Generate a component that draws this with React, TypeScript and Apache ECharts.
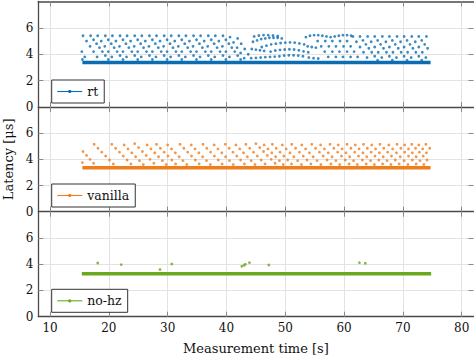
import React, { useEffect, useRef } from "react";
import * as echarts from "echarts";

const xTickValues = [10, 20, 30, 40, 50, 60, 70, 80];
const yLabelValues = [0, 2, 4, 6];
const yTickValues = [2, 4, 6];
const seriesNames = ["rt", "vanilla", "no-hz"];
const seriesColors = ["#0a6db3", "#f07c1b", "#69a81f"];

const baselineRt: number[][] = [[15.5, 3.37], [74.7, 3.37]];
const baselineVanilla: number[][] = [[15.5, 3.36], [74.7, 3.36]];
const baselineNoHz: number[][] = [[15.4, 3.27], [74.8, 3.27]];

const rtDots: number[][] = [
  [15.4, 4.2], [15.9, 3.8], [15.5, 3.6],
  [15.6, 5.4], [16.2, 5.0], [16.8, 4.6], [17.4, 4.2], [18.0, 3.8],
  [16.9, 5.4], [17.4, 5.1], [17.9, 4.8], [18.4, 4.5], [18.9, 4.2], [19.4, 3.9], [19.9, 3.6],
  [18.1, 5.4], [18.7, 5.0], [19.3, 4.6], [19.9, 4.2], [20.5, 3.8],
  [19.4, 5.4], [19.9, 5.1], [20.4, 4.8], [20.9, 4.5], [21.4, 4.2], [21.9, 3.9], [22.4, 3.6],
  [20.6, 5.4], [21.2, 5.0], [21.8, 4.6], [22.4, 4.2], [23.0, 3.8],
  [21.9, 5.4], [22.4, 5.1], [22.9, 4.8], [23.4, 4.5], [23.9, 4.2], [24.4, 3.9], [24.9, 3.6],
  [23.1, 5.4], [23.7, 5.0], [24.3, 4.6], [24.9, 4.2], [25.5, 3.8],
  [24.4, 5.4], [24.9, 5.1], [25.4, 4.8], [25.9, 4.5], [26.4, 4.2], [26.9, 3.9], [27.4, 3.6],
  [25.6, 5.4], [26.2, 5.0], [26.8, 4.6], [27.4, 4.2], [28.0, 3.8],
  [26.9, 5.4], [27.4, 5.1], [27.9, 4.8], [28.4, 4.5], [28.9, 4.2], [29.4, 3.9], [29.9, 3.6],
  [28.1, 5.4], [28.7, 5.0], [29.3, 4.6], [29.9, 4.2], [30.5, 3.8],
  [29.4, 5.4], [29.9, 5.1], [30.4, 4.8], [30.9, 4.5], [31.4, 4.2], [31.9, 3.9], [32.4, 3.6],
  [30.6, 5.4], [31.2, 5.0], [31.8, 4.6], [32.4, 4.2], [33.0, 3.8],
  [31.9, 5.4], [32.4, 5.1], [32.9, 4.8], [33.4, 4.5], [33.9, 4.2], [34.4, 3.9], [34.9, 3.6],
  [33.1, 5.4], [33.7, 5.0], [34.3, 4.6], [34.9, 4.2], [35.5, 3.8],
  [34.4, 5.4], [34.9, 5.1], [35.4, 4.8], [35.9, 4.5], [36.4, 4.2], [36.9, 3.9], [37.4, 3.6],
  [35.6, 5.4], [36.2, 5.0], [36.8, 4.6], [37.4, 4.2], [38.0, 3.8],
  [36.9, 5.4], [37.4, 5.1], [37.9, 4.8], [38.4, 4.5], [38.9, 4.2], [39.4, 3.9], [39.9, 3.6],
  [38.1, 5.4], [38.7, 5.0], [39.3, 4.6], [39.9, 4.2], [40.5, 3.8],
  [39.4, 5.4], [39.9, 5.1], [40.4, 4.8], [40.9, 4.5], [41.4, 4.2], [41.9, 3.9], [42.4, 3.6],
  [40.6, 5.3], [41.2, 4.9], [41.8, 4.5], [42.4, 4.1], [43.0, 3.7],
  [41.9, 5.2], [42.5, 4.8], [43.1, 4.4], [43.7, 4.0],
  [44.7, 5.35], [45.5, 5.42], [46.3, 5.45], [47.1, 5.45], [47.9, 5.42], [48.7, 5.38],
  [44.5, 4.95], [45.2, 5.05], [45.9, 5.15], [46.6, 5.2], [47.3, 5.25], [48.0, 5.25], [48.7, 5.25], [49.4, 5.2],
  [44.3, 4.4], [45.0, 4.35], [45.7, 4.3], [46.4, 4.25],
  [44.2, 3.7], [45.0, 3.72], [45.8, 3.75], [46.6, 3.78], [47.4, 3.8], [48.2, 3.82],
  [46.0, 4.55], [46.8, 4.65], [47.6, 4.75], [48.4, 4.8], [49.2, 4.85], [50.0, 4.88], [50.8, 4.9], [51.6, 4.88], [52.4, 4.82], [53.2, 4.75],
  [47.5, 4.2], [48.3, 4.28], [49.1, 4.33], [49.9, 4.36], [50.7, 4.38], [51.5, 4.36], [52.3, 4.3], [53.1, 4.22], [53.9, 4.15],
  [49.0, 3.85], [49.8, 3.9], [50.6, 3.92], [51.4, 3.92], [52.2, 3.9], [53.0, 3.85],
  [53.8, 4.6], [54.5, 4.55], [55.2, 4.5],
  [54.0, 3.75], [54.8, 3.7], [55.6, 3.68],
  [53.5, 5.3], [54.2, 5.4], [54.9, 5.45], [55.6, 5.45], [56.3, 5.4], [57.0, 5.35], [57.7, 5.3], [58.4, 5.35], [59.1, 5.4], [59.8, 5.45], [60.5, 5.45], [61.2, 5.4],
  [55.5, 5.0], [56.1, 4.6], [56.7, 4.2], [57.3, 3.8],
  [56.8, 5.0], [57.4, 4.6], [58.0, 4.2], [58.6, 3.8],
  [58.0, 5.0], [58.6, 4.6], [59.2, 4.2], [59.8, 3.8],
  [59.3, 5.0], [59.9, 4.6], [60.5, 4.2], [61.1, 3.8],
  [60.5, 5.0], [61.1, 4.6], [61.7, 4.2], [62.3, 3.8],
  [61.5, 5.35], [62.1, 4.95], [62.7, 4.55], [63.3, 4.15], [63.9, 3.75],
  [62.7, 5.35], [63.2, 5.05], [63.7, 4.75], [64.2, 4.45], [64.7, 4.15], [65.2, 3.85], [65.7, 3.55],
  [64.0, 5.35], [64.6, 4.95], [65.2, 4.55], [65.8, 4.15], [66.4, 3.75],
  [65.2, 5.35], [65.7, 5.05], [66.2, 4.75], [66.7, 4.45], [67.2, 4.15], [67.7, 3.85], [68.2, 3.55],
  [66.5, 5.35], [67.1, 4.95], [67.7, 4.55], [68.3, 4.15], [68.9, 3.75],
  [67.7, 5.35], [68.2, 5.05], [68.7, 4.75], [69.2, 4.45], [69.7, 4.15], [70.2, 3.85], [70.7, 3.55],
  [69.0, 5.35], [69.6, 4.95], [70.2, 4.55], [70.8, 4.15], [71.4, 3.75],
  [70.2, 5.35], [70.7, 5.05], [71.2, 4.75], [71.7, 4.45], [72.2, 4.15], [72.7, 3.85], [73.2, 3.55],
  [71.5, 5.35], [72.1, 4.95], [72.7, 4.55], [73.3, 4.15], [73.9, 3.75],
  [72.7, 5.35], [73.2, 5.05], [73.7, 4.75], [74.2, 4.45],
  [74.0, 5.35],
];

const vanillaDots: number[][] = [
  [15.6, 4.6], [16.2, 4.3], [16.8, 4.0], [17.4, 3.7], [15.5, 3.75],
  [17.5, 5.15], [18.15, 4.85], [18.8, 4.55], [19.45, 4.25], [20.1, 3.95], [20.75, 3.65],
  [20.5, 5.15], [21.15, 4.85], [21.8, 4.55], [22.45, 4.25], [23.1, 3.95], [23.75, 3.65],
  [22.6, 5.1], [23.25, 4.8], [23.9, 4.5], [24.55, 4.2], [25.2, 3.9], [25.85, 3.6],
  [24.4, 5.2], [25.05, 4.9], [25.7, 4.6], [26.35, 4.3], [27.0, 4.0], [27.65, 3.7],
  [26.5, 5.1], [27.15, 4.8], [27.8, 4.5], [28.45, 4.2], [29.1, 3.9], [29.75, 3.6],
  [28.1, 5.15], [28.75, 4.85], [29.4, 4.55], [30.05, 4.25], [30.7, 3.95], [31.35, 3.65],
  [30.0, 5.1], [30.65, 4.8], [31.3, 4.5], [31.95, 4.2], [32.6, 3.9], [33.25, 3.6],
  [32.1, 5.15], [32.75, 4.85], [33.4, 4.55], [34.05, 4.25], [34.7, 3.95], [35.35, 3.65],
  [34.0, 5.1], [34.65, 4.8], [35.3, 4.5], [35.95, 4.2], [36.6, 3.9], [37.25, 3.6],
  [36.0, 5.15], [36.65, 4.85], [37.3, 4.55], [37.95, 4.25], [38.6, 3.95], [39.25, 3.65],
  [37.9, 5.1], [38.55, 4.8], [39.2, 4.5], [39.85, 4.2], [40.5, 3.9], [41.15, 3.6],
  [39.8, 5.15], [40.45, 4.85], [41.1, 4.55], [41.75, 4.25], [42.4, 3.95], [43.05, 3.65],
  [41.6, 5.1], [42.25, 4.8], [42.9, 4.5], [43.55, 4.2], [44.2, 3.9], [44.85, 3.6],
  [43.3, 5.15], [43.95, 4.85], [44.6, 4.55], [45.25, 4.25], [45.9, 3.95], [46.55, 3.65],
  [45.0, 5.2], [45.65, 4.9], [46.3, 4.6], [46.95, 4.3], [47.6, 4.0], [48.25, 3.7],
  [46.4, 5.1], [47.05, 4.8], [47.7, 4.5], [48.35, 4.2], [49.0, 3.9], [49.65, 3.6],
  [47.8, 5.15], [48.45, 4.85], [49.1, 4.55], [49.75, 4.25], [50.4, 3.95], [51.05, 3.65],
  [49.5, 5.1], [50.15, 4.8], [50.8, 4.5], [51.45, 4.2], [52.1, 3.9], [52.75, 3.6],
  [51.1, 5.15], [51.75, 4.85], [52.4, 4.55], [53.05, 4.25], [53.7, 3.95], [54.35, 3.65],
  [52.8, 5.1], [53.45, 4.8], [54.1, 4.5], [54.75, 4.2], [55.4, 3.9], [56.05, 3.6],
  [54.5, 5.15], [55.15, 4.85], [55.8, 4.55], [56.45, 4.25], [57.1, 3.95], [57.75, 3.65],
  [56.0, 5.1], [56.65, 4.8], [57.3, 4.5], [57.95, 4.2], [58.6, 3.9], [59.25, 3.6],
  [57.6, 5.15], [58.25, 4.85], [58.9, 4.55], [59.55, 4.25], [60.2, 3.95], [60.85, 3.65],
  [59.0, 5.1], [59.65, 4.8], [60.3, 4.5], [60.95, 4.2], [61.6, 3.9], [62.25, 3.6],
  [60.5, 5.15], [61.15, 4.85], [61.8, 4.55], [62.45, 4.25], [63.1, 3.95], [63.75, 3.65],
  [61.9, 5.1], [62.55, 4.8], [63.2, 4.5], [63.85, 4.2], [64.5, 3.9], [65.15, 3.6],
  [63.3, 5.15], [63.95, 4.85], [64.6, 4.55], [65.25, 4.25], [65.9, 3.95], [66.55, 3.65],
  [64.7, 5.1], [65.35, 4.8], [66.0, 4.5], [66.65, 4.2], [67.3, 3.9], [67.95, 3.6],
  [66.1, 5.15], [66.75, 4.85], [67.4, 4.55], [68.05, 4.25], [68.7, 3.95], [69.35, 3.65],
  [67.6, 5.1], [68.25, 4.8], [68.9, 4.5], [69.55, 4.2], [70.2, 3.9], [70.85, 3.6],
  [69.0, 5.15], [69.65, 4.85], [70.3, 4.55], [70.95, 4.25], [71.6, 3.95], [72.25, 3.65],
  [70.3, 5.1], [70.95, 4.8], [71.6, 4.5], [72.25, 4.2], [72.9, 3.9], [73.55, 3.6],
  [71.5, 5.15], [72.15, 4.85], [72.8, 4.55], [73.45, 4.25], [74.1, 3.95],
  [72.7, 5.1], [73.35, 4.8], [74.0, 4.5],
  [73.9, 5.15], [74.55, 4.85],
];

const noHzDots: number[][] = [
  [18.1, 4.09], [22.1, 3.97], [28.7, 3.59], [30.7, 4.02],
  [42.6, 3.84], [43.0, 3.92], [43.2, 4.0], [43.9, 4.12],
  [47.2, 3.94], [62.6, 4.12], [63.6, 4.07],
];

const FONT = "DejaVu Serif";
const AXIS_DARK = "#4a4a4a";
const TICK_GRAY = "#8a8a8a";
const GRID_GRAY = "#e3e3e3";

export default function App() {
  const ref = useRef<HTMLDivElement>(null);

  useEffect(() => {
    document.body.style.margin = "0";
    if (!ref.current) return;
    const chart = echarts.init(ref.current, undefined, { renderer: "svg" });

    const grids = [
      { top: 1.5, height: 105.5 },
      { top: 107, height: 104.7 },
      { top: 211.7, height: 105 },
    ];
    const legendTops = [80, 184, 289.3];
    const baselines = [baselineRt, baselineVanilla, baselineNoHz];
    const dots = [rtDots, vanillaDots, noHzDots];

    const xAxes: any[] = [];
    grids.forEach((_, i) => {
      xAxes.push({
        type: "value",
        gridIndex: i,
        position: "bottom",
        min: 8,
        max: 82,
        axisLine: { show: true, onZero: false, lineStyle: { color: AXIS_DARK, width: 1.3 } },
        axisTick: { show: true, inside: true, length: 5, customValues: xTickValues, lineStyle: { color: TICK_GRAY } },
        axisLabel: {
          show: i === 2,
          customValues: xTickValues,
          margin: 5,
          fontFamily: FONT,
          fontSize: 12,
          color: "#111",
        },
        splitLine: { show: true, lineStyle: { color: GRID_GRAY, width: 1 } },
        name: i === 2 ? "Measurement time [s]" : "",
        nameLocation: "middle",
        nameGap: 25,
        nameTextStyle: { fontFamily: FONT, fontSize: 13, color: "#111" },
      });
    });
    grids.forEach((_, i) => {
      xAxes.push({
        type: "value",
        gridIndex: i,
        position: "top",
        min: 8,
        max: 82,
        axisLine: { show: i === 0, onZero: false, lineStyle: { color: AXIS_DARK, width: 1.6 } },
        axisTick: { show: true, inside: true, length: 5, customValues: xTickValues, lineStyle: { color: TICK_GRAY } },
        axisLabel: { show: false },
        splitLine: { show: false },
      });
    });

    const yAxes: any[] = [];
    grids.forEach((_, i) => {
      yAxes.push({
        type: "value",
        gridIndex: i,
        position: "left",
        min: 0,
        max: 8,
        axisLine: { show: true, onZero: false, lineStyle: { color: AXIS_DARK, width: 1.3 } },
        axisTick: { show: true, inside: true, length: 5, customValues: yTickValues, lineStyle: { color: TICK_GRAY } },
        axisLabel: {
          show: true,
          customValues: yLabelValues,
          margin: 5,
          fontFamily: FONT,
          fontSize: 12,
          color: "#111",
        },
        splitLine: { show: true, lineStyle: { color: GRID_GRAY, width: 1 } },
        name: i === 1 ? "Latency [μs]" : "",
        nameLocation: "middle",
        nameGap: 23,
        nameTextStyle: { fontFamily: FONT, fontSize: 13, color: "#111" },
      });
    });
    grids.forEach((_, i) => {
      yAxes.push({
        type: "value",
        gridIndex: i,
        position: "right",
        min: 0,
        max: 8,
        axisLine: { show: false },
        axisTick: { show: true, inside: true, length: 5, customValues: yTickValues, lineStyle: { color: TICK_GRAY } },
        axisLabel: { show: false },
        splitLine: { show: false },
      });
    });

    const series: any[] = [];
    seriesNames.forEach((name, i) => {
      series.push({
        name,
        type: "line",
        xAxisIndex: i,
        yAxisIndex: i,
        data: baselines[i],
        symbol: "circle",
        symbolSize: 3,
        showSymbol: false,
        lineStyle: { color: seriesColors[i], width: 3.4 },
        itemStyle: { color: seriesColors[i] },
        silent: true,
        z: 2,
      });
      series.push({
        name: name + " samples",
        type: "scatter",
        xAxisIndex: i,
        yAxisIndex: i,
        data: dots[i],
        symbol: "circle",
        symbolSize: 2.8,
        itemStyle: { color: seriesColors[i] },
        silent: true,
        z: 3,
      });
    });

    chart.setOption({
      animation: false,
      backgroundColor: "#fff",
      textStyle: { fontFamily: FONT },
      grid: grids.map((g) => ({
        left: 38.3,
        right: 0.5,
        top: g.top,
        height: g.height,
        containLabel: false,
        outerBoundsMode: "none",
      })),
      xAxis: xAxes,
      yAxis: yAxes,
      legend: seriesNames.map((n, i) => ({
        data: [n],
        left: 51.7,
        top: legendTops[i],
        orient: "horizontal",
        padding: [5, 6, 5, 5],
        itemWidth: 25,
        itemHeight: 4,
        itemGap: 0,
        backgroundColor: "#fff",
        borderColor: "#333",
        borderWidth: 1,
        borderRadius: 0,
        selectedMode: false,
        lineStyle: { width: 1.1 },
        textStyle: { fontFamily: FONT, fontSize: 12.5, color: "#111" },
      })),
      series,
    });

    return () => chart.dispose();
  }, []);

  return <div ref={ref} style={{ width: 474, height: 357 }} />;
}
